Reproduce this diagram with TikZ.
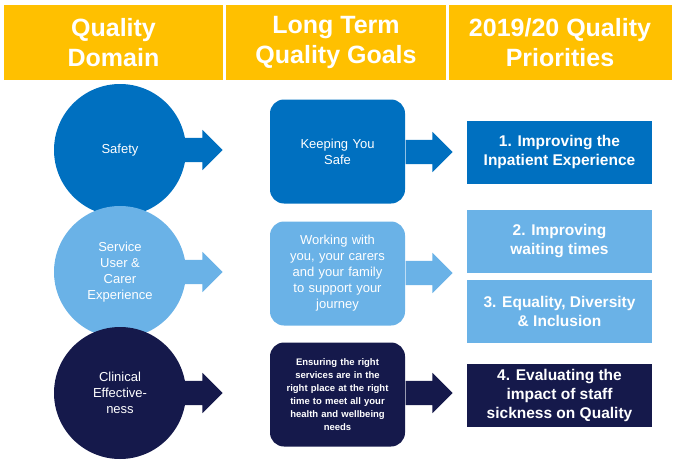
\documentclass[tikz,border=0pt]{standalone}
\usepackage{fontspec}
\setmainfont{Liberation Sans}
\usetikzlibrary{shapes.arrows}
\definecolor{ylw}{HTML}{FFC000}
\definecolor{dblue}{HTML}{0070C0}
\definecolor{lblue}{HTML}{6AB2E7}
\definecolor{navy}{HTML}{15194B}
\begin{document}
\begin{tikzpicture}[x=1pt,y=-1pt,
 hdr/.style={fill=ylw,draw=none,text=white,font=\bfseries\fontsize{25}{30}\selectfont,align=center,minimum height=75pt,inner sep=0},
 circ/.style={circle,minimum size=132pt,draw=none,text=white,font=\fontsize{13}{16}\selectfont,align=center,inner sep=0},
 goal/.style={rounded corners=14pt,minimum width=135pt,minimum height=104pt,draw=none,text=white,align=center,text width=128pt},
 prio/.style={minimum width=185pt,minimum height=63pt,draw=none,text=white,font=\bfseries\fontsize{15.5}{19}\selectfont,align=center,inner sep=0},
 arr/.style={single arrow,minimum height=47pt,minimum width=40pt,single arrow head extend=8pt,draw=none,inner sep=0pt,text height=24pt}]
\useasboundingbox (0,0) rectangle (674,460);
\node[hdr,minimum width=219pt] (h1) at (113.5,42.5) {Quality\\Domain};
\node[hdr,minimum width=220pt] (h2) at (336,42.5) {Long Term\\Quality Goals};
\node[hdr,minimum width=223pt] (h3) at (560,42.5) {2019/20 Quality\\Priorities};
\node[arr,fill=dblue] (a1) at (193,150) {};
\node[arr,fill=lblue] (a2) at (193,272) {};
\node[arr,fill=navy] (a3) at (193,393) {};
\node[arr,fill=dblue] (b1) at (423,152) {};
\node[arr,fill=lblue] (b2) at (423,273) {};
\node[arr,fill=navy] (b3) at (423,393) {};
\node[circ,fill=dblue] (c1) at (120,150) {Safety};
\node[circ,fill=lblue] (c2) at (120,272) {Service\\User \&\\Carer\\Experience};
\node[circ,fill=navy] (c3) at (120,393) {Clinical\\Effective-\\ness};
\node[goal,fill=dblue,font=\fontsize{13}{16}\selectfont] (g1) at (337.5,151.5) {Keeping You\\Safe};
\node[goal,fill=lblue,font=\fontsize{13}{16}\selectfont] (g2) at (337.5,273.5) {Working with\\you, your carers\\and your family\\to support your\\journey};
\node[goal,fill=navy,font=\bfseries\fontsize{9.5}{13}\selectfont] (g3) at (337.5,394.5) {Ensuring the right\\services are in the\\right place at the right\\time to meet all your\\health and wellbeing\\needs};
\node[prio,fill=dblue] (p1) at (559.5,152) {1. Improving the\\Inpatient Experience};
\node[prio,fill=lblue] (p2) at (559.5,241) {2. Improving\\waiting times};
\node[prio,fill=lblue] (p3) at (559.5,311) {3. Equality, Diversity\\\& Inclusion};
\node[prio,fill=navy] (p4) at (559.5,395.5) {4. Evaluating the\\impact of staff\\sickness on Quality};
\end{tikzpicture}
\end{document}
